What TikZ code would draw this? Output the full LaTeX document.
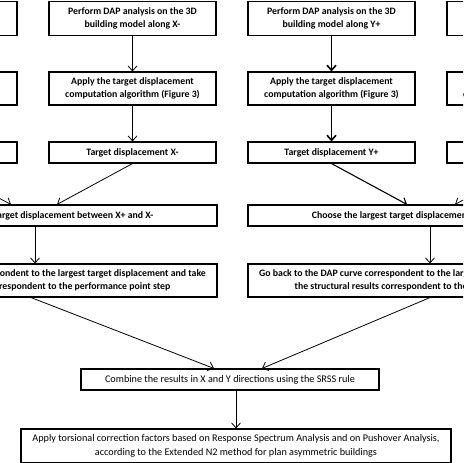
\documentclass[tikz,border=0pt]{standalone}
\usepackage{fontspec}
\setmainfont{Carlito}
\usetikzlibrary{arrows.meta}
\begin{document}
\begin{tikzpicture}[x=1pt,y=-1pt,
  box/.style={draw, line width=1.1pt, align=center, inner sep=0pt,
    font=\fontsize{9.8}{12.5}\selectfont\bfseries},
  colbox/.style={box, minimum width=167pt},
  widebox/.style={box, minimum width=364pt},
  lowbox/.style={draw, line width=1.1pt, align=center, inner sep=0pt,
    font=\fontsize{10.2}{14}\selectfont},
  arr/.style={-{Straight Barb[length=5pt,width=9pt]}, line width=0.8pt},
  tarr/.style={arr, line width=1.6pt},
  marr/.style={arr, line width=1.1pt}]
\useasboundingbox (0,0) rectangle (463,463);
\clip (0,0) rectangle (463,463);
% column X+
\node[colbox, minimum height=34pt] (xp1) at (-66.5,18.5) {Perform DAP analysis on the 3D\\building model along X+};
\node[colbox, minimum height=33pt] (xp2) at (-66.5,88.5) {Apply the target displacement\\computation algorithm (Figure 3)};
\node[colbox, minimum height=21pt] (xp3) at (-66.5,152.5) {Target displacement X+};
% column X-
\node[colbox, minimum height=34pt] (xm1) at (132.5,18.5) {Perform DAP analysis on the 3D\\building model along X-};
\node[colbox, minimum height=33pt] (xm2) at (132.5,88.5) {Apply the target displacement\\computation algorithm (Figure 3)};
\node[colbox, minimum height=21pt] (xm3) at (132.5,152.5) {Target displacement X-};
% column Y+
\node[colbox, minimum height=34pt] (yp1) at (331.5,18.5) {Perform DAP analysis on the 3D\\building model along Y+};
\node[colbox, minimum height=33pt] (yp2) at (331.5,88.5) {Apply the target displacement\\computation algorithm (Figure 3)};
\node[colbox, minimum height=21pt] (yp3) at (331.5,152.5) {Target displacement Y+};
% column Y-
\node[colbox, minimum height=34pt] (ym1) at (530.5,18.5) {Perform DAP analysis on the 3D\\building model along Y-};
\node[colbox, minimum height=33pt] (ym2) at (530.5,88.5) {Apply the target displacement\\computation algorithm (Figure 3)};
\node[colbox, minimum height=21pt] (ym3) at (530.5,152.5) {Target displacement Y-};
% row 4 and 5
\node[widebox, minimum height=21pt] (r4l) at (35,215.5) {Choose the largest target displacement between X+ and X-};
\node[widebox, minimum height=21pt] (r4r) at (430,215.5) {Choose the largest target displacement between Y+ and Y-};
\node[widebox, minimum height=33pt] (r5l) at (35,280.5) {Go back to the DAP curve correspondent to the largest target displacement and take\\the structural results correspondent to the performance point step};
\node[widebox, minimum height=33pt] (r5r) at (430,280.5) {Go back to the DAP curve correspondent to the largest target displacement and take\\the structural results correspondent to the performance point step};
% rows 6 and 7
\node[lowbox, minimum width=298pt, minimum height=21pt] (comb) at (230,379.5) {Combine the results in X and Y directions using the SRSS rule};
\node[lowbox, minimum width=430pt, minimum height=33.5pt] (tors) at (236,445.75) {Apply torsional correction factors based on Response Spectrum Analysis and on Pushover Analysis,\\according to the Extended N2 method for plan asymmetric buildings};
% arrows
\draw[arr] (xp1) -- (xp2);
\draw[arr] (xp2) -- (xp3);
\draw[arr] (xm1) -- (xm2);
\draw[arr] (xm2) -- (xm3);
\draw[tarr] (yp1) -- (yp2);
\draw[tarr] (yp2) -- (yp3);
\draw[arr] (ym1) -- (ym2);
\draw[arr] (ym2) -- (ym3);
\draw[arr] (xp3.south) -- ([xshift=-24pt]r4l.north);
\draw[arr] (xm3.south) -- ([xshift=22pt]r4l.north);
\draw[marr] (yp3.south) -- ([xshift=-23pt]r4r.north);
\draw[arr] (ym3.south) -- ([xshift=25pt]r4r.north);
\draw[arr] (r4l) -- (r5l);
\draw[arr] (r4r) -- (r5r);
\draw[arr] ([xshift=-4pt]r5l.south) -- ([xshift=-16pt]comb.north);
\draw[arr] (r5r.south) -- ([xshift=32pt]comb.north);
\draw[arr] (comb.south -| tors.north) -- (tors.north);
\end{tikzpicture}
\end{document}
